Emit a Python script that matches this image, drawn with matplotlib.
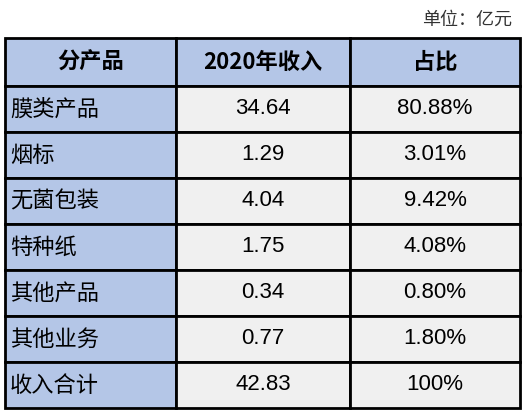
import matplotlib
matplotlib.use("Agg")
import matplotlib.pyplot as plt
from matplotlib.patches import Rectangle

plt.rcParams['font.family'] = ['Noto Sans CJK SC', 'DejaVu Sans']

headers = ["分产品", "2020年收入", "占比"]
products = ["膜类产品", "烟标", "无菌包装", "特种纸", "其他产品", "其他业务", "收入合计"]
revenue = ["34.64", "1.29", "4.04", "1.75", "0.34", "0.77", "42.83"]
share = ["80.88%", "3.01%", "9.42%", "4.08%", "0.80%", "1.80%", "100%"]

W, H = 525, 413
fig = plt.figure(figsize=(W / 100, H / 100), dpi=100)
ax = fig.add_axes([0, 0, 1, 1])
ax.set_xlim(0, W); ax.set_ylim(H, 0); ax.axis("off")

col_x = [5, 176, 350, 520]
head_top, head_h, row_h = 38, 48, 46
blue = "#b4c6e7"
cell = "#f0f0f0"

ax.text(512, 20, "单位：亿元", ha="right", va="center", fontsize=13, color="#333333")

# header
for j, h in enumerate(headers):
    ax.add_patch(Rectangle((col_x[j], head_top), col_x[j+1] - col_x[j], head_h,
                           facecolor=blue, edgecolor="black", lw=2))
    ax.text((col_x[j] + col_x[j+1]) / 2, head_top + head_h / 2, h,
            ha="center", va="center", fontsize=16, fontweight="bold")

for i, (p, r, s) in enumerate(zip(products, revenue, share)):
    y = head_top + head_h + i * row_h
    ax.add_patch(Rectangle((col_x[0], y), col_x[1] - col_x[0], row_h,
                           facecolor=blue, edgecolor="black", lw=2))
    for j in (1, 2):
        ax.add_patch(Rectangle((col_x[j], y), col_x[j+1] - col_x[j], row_h,
                               facecolor=cell, edgecolor="black", lw=2))
    ax.text(col_x[0] + 5, y + row_h / 2, p, ha="left", va="center", fontsize=16)
    ax.text((col_x[1] + col_x[2]) / 2, y + row_h / 2, r, ha="center", va="center",
            fontsize=16, family=["Liberation Sans", "DejaVu Sans"])
    ax.text((col_x[2] + col_x[3]) / 2, y + row_h / 2, s, ha="center", va="center",
            fontsize=16, family=["Liberation Sans", "DejaVu Sans"])

fig.savefig("out.png", dpi=100)
